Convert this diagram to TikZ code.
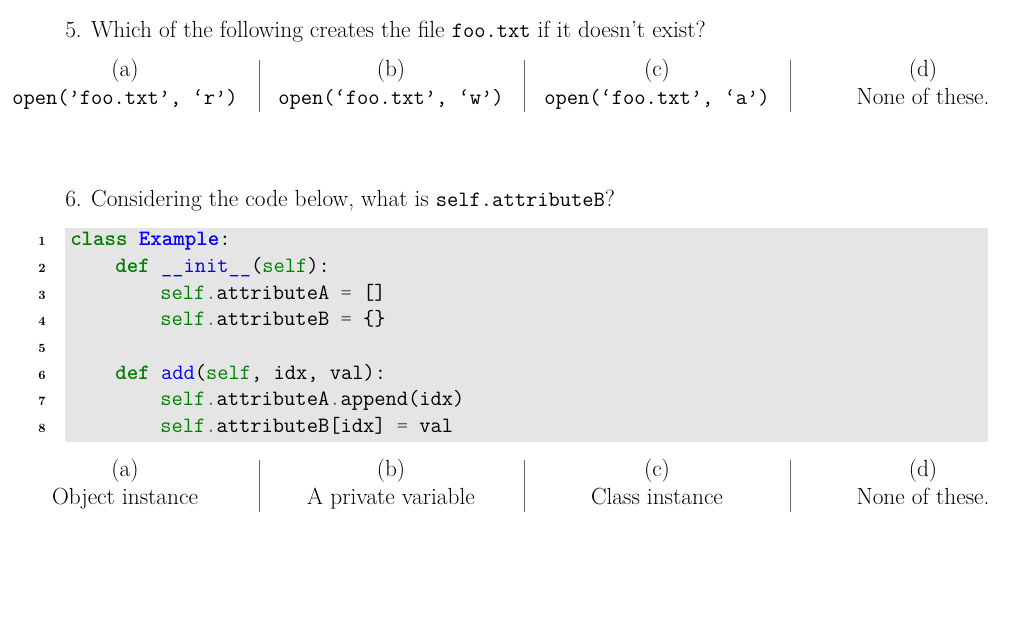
\documentclass[tikz,border=0pt]{standalone}
\usepackage{fontspec}
\definecolor{codebg}{HTML}{E5E5E5}
\definecolor{kwgreen}{rgb}{0,0.5,0}
\definecolor{opgray}{HTML}{666666}
\newcommand{\kw}[1]{{\color{kwgreen}\bfseries #1}}
\newcommand{\slf}[1]{{\color{kwgreen}#1}}
\newcommand{\nm}[1]{{\color{blue}#1}}
\newcommand{\op}[1]{{\color{opgray}#1}}
\begin{document}
\begin{tikzpicture}[x=0.75pt,y=-0.75pt,
  txt/.style={font=\fontsize{17.5}{20}\selectfont,inner sep=0pt},
  code/.style={font=\fontsize{16.4}{19}\ttfamily,inner sep=0pt,anchor=base west},
  lno/.style={font=\fontsize{9.5}{11}\selectfont\bfseries,inner sep=0pt,anchor=base},
  sep/.style={draw=black!60,line width=0.6pt}]
\useasboundingbox (0,0) rectangle (1024,619);
\node[txt,anchor=base west] (q5) at (65,37) {5. Which of the following creates the file {\fontsize{16.4}{19}\ttfamily foo.txt} if it doesn’t exist?};
% top answers
\node[txt,anchor=base] (ta) at (125,76) {(a)};
\node[txt,anchor=base] (tat) at (125,104) {\fontsize{16.4}{19}\ttfamily open(’foo.txt’, ‘r’)};
\node[txt,anchor=base] (tb) at (391,76) {(b)};
\node[txt,anchor=base] (tbt) at (391,104) {\fontsize{16.4}{19}\ttfamily open(‘foo.txt’, ‘w’)};
\node[txt,anchor=base] (tc) at (657,76) {(c)};
\node[txt,anchor=base] (tct) at (657,104) {\fontsize{16.4}{19}\ttfamily open(‘foo.txt’, ‘a’)};
\node[txt,anchor=base] (td) at (923,76) {(d)};
\node[txt,anchor=base] (tdt) at (923,104) {None of these.};
\coordinate (s1a) at (259,60); \coordinate (s1b) at (259,112);
\coordinate (s2a) at (524,60); \coordinate (s2b) at (524,112);
\coordinate (s3a) at (790,60); \coordinate (s3b) at (790,112);
\draw[sep] (s1a) -- (s1b); \draw[sep] (s2a) -- (s2b); \draw[sep] (s3a) -- (s3b);
\node[txt,anchor=base west] (q6) at (65,206) {6. Considering the code below, what is {\fontsize{16.4}{19}\ttfamily self.attributeB}?};
% code box
\fill[codebg] (65,228) rectangle (988,442);
\foreach \i/\yy in {1/245,2/272,3/299,4/325,5/352,6/379,7/405,8/432}{
  \node[lno] (ln\i) at (42,\yy) {\i};}
\node[code] (c1) at (70,245) {\kw{class} \nm{\bfseries Example}:};
\node[code] (c2) at (70,272) {\phantom{xxxx}\kw{def} \nm{\_\_init\_\_}(\slf{self}):};
\node[code] (c3) at (70,299) {\phantom{xxxxxxxx}\slf{self}\op{.}attributeA \op{=} []};
\node[code] (c4) at (70,325) {\phantom{xxxxxxxx}\slf{self}\op{.}attributeB \op{=} \{\}};
\node[code] (c6) at (70,379) {\phantom{xxxx}\kw{def} \nm{add}(\slf{self}, idx, val):};
\node[code] (c7) at (70,405) {\phantom{xxxxxxxx}\slf{self}\op{.}attributeA\op{.}append(idx)};
\node[code] (c8) at (70,432) {\phantom{xxxxxxxx}\slf{self}\op{.}attributeB[idx] \op{=} val};
% bottom answers
\node[txt,anchor=base] (ba) at (125,476) {(a)};
\node[txt,anchor=base] (bat) at (125,504) {Object instance};
\node[txt,anchor=base] (bb) at (391,476) {(b)};
\node[txt,anchor=base] (bbt) at (391,504) {A private variable};
\node[txt,anchor=base] (bc) at (657,476) {(c)};
\node[txt,anchor=base] (bct) at (657,504) {Class instance};
\node[txt,anchor=base] (bd) at (923,476) {(d)};
\node[txt,anchor=base] (bdt) at (923,504) {None of these.};
\coordinate (t1a) at (259,460); \coordinate (t1b) at (259,512);
\coordinate (t2a) at (524,460); \coordinate (t2b) at (524,512);
\coordinate (t3a) at (790,460); \coordinate (t3b) at (790,512);
\draw[sep] (t1a) -- (t1b); \draw[sep] (t2a) -- (t2b); \draw[sep] (t3a) -- (t3b);
\end{tikzpicture}
\end{document}
